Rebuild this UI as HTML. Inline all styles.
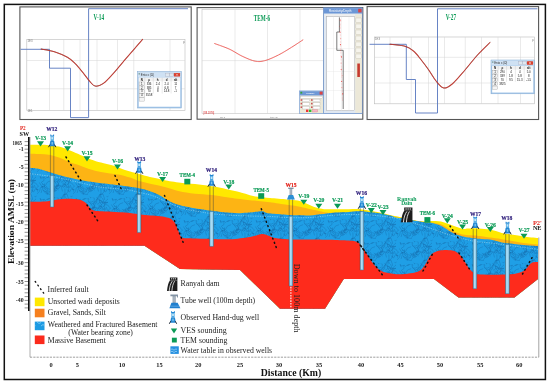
<!DOCTYPE html>
<html><head><meta charset="utf-8"><title>Geoelectrical cross-section P2-P2'</title>
<style>
html,body{margin:0;padding:0;background:#fff;}
body{width:550px;height:383px;overflow:hidden;}
svg{display:block;}
text{font-family:"Liberation Serif","Times New Roman",serif;}
.ss{font-family:"Liberation Sans",Arial,sans-serif;}
</style></head><body>
<svg width="550" height="383" viewBox="0 0 550 383">
<rect x="0" y="0" width="550" height="383" fill="#fff"/>

<defs>
<pattern id="tex" x="0" y="0" width="36" height="22" patternUnits="userSpaceOnUse">
<polyline points="16.29,12.31 18.93,11.04 21.83,10.65 22.70,7.86" fill="none" stroke="#0f5c9c" stroke-width="0.5" opacity="0.6"/>
<polyline points="18.43,13.86 17.50,11.88 15.44,12.61 13.87,11.08" fill="none" stroke="#0f5c9c" stroke-width="0.5" opacity="0.6"/>
<polyline points="24.96,0.92 28.52,2.60 31.09,5.58 34.74,4.14" fill="none" stroke="#0f5c9c" stroke-width="0.5" opacity="0.6"/>
<polyline points="0.54,11.62 2.56,10.37 1.07,8.51 -0.64,6.86" fill="none" stroke="#0f5c9c" stroke-width="0.5" opacity="0.6"/>
<polyline points="15.86,18.53 12.60,18.14 10.10,16.02 7.31,14.30" fill="none" stroke="#0f5c9c" stroke-width="0.5" opacity="0.6"/>
<polyline points="10.01,21.95 12.78,24.38 16.45,24.58 18.69,21.66" fill="none" stroke="#0f5c9c" stroke-width="0.5" opacity="0.6"/>
<polyline points="10.41,1.54 13.14,0.93 15.40,-0.72 16.87,1.67" fill="none" stroke="#0f5c9c" stroke-width="0.5" opacity="0.6"/>
<polyline points="30.50,0.01 31.85,3.59 28.11,4.36 24.90,6.42" fill="none" stroke="#0f5c9c" stroke-width="0.5" opacity="0.6"/>
<polyline points="2.63,13.85 0.18,13.19 -2.22,14.03 -2.82,11.56" fill="none" stroke="#0f5c9c" stroke-width="0.5" opacity="0.6"/>
<polyline points="27.29,2.60 29.49,2.52 30.62,4.41 32.80,4.13" fill="none" stroke="#0f5c9c" stroke-width="0.5" opacity="0.6"/>
<polyline points="20.13,9.84 23.57,9.39 26.78,10.70 28.67,7.80" fill="none" stroke="#0f5c9c" stroke-width="0.5" opacity="0.6"/>
<polyline points="15.15,4.68 11.45,6.05 9.52,9.49 5.79,8.22" fill="none" stroke="#0f5c9c" stroke-width="0.5" opacity="0.6"/>
<polyline points="7.59,8.67 5.27,6.35 7.99,4.51 7.82,1.23" fill="none" stroke="#0f5c9c" stroke-width="0.5" opacity="0.6"/>
<polyline points="9.30,17.00 11.53,18.31 13.05,16.21 15.12,14.65" fill="none" stroke="#0f5c9c" stroke-width="0.5" opacity="0.6"/>
<polyline points="8.75,13.23 6.82,11.05 4.77,8.99 3.34,6.46" fill="none" stroke="#0f5c9c" stroke-width="0.5" opacity="0.6"/>
<polyline points="31.19,4.02 29.23,7.29 30.57,10.86 34.37,11.22" fill="none" stroke="#0f5c9c" stroke-width="0.5" opacity="0.6"/>
<polyline points="26.62,20.69 23.26,22.66 19.40,23.28 15.88,24.94" fill="none" stroke="#0f5c9c" stroke-width="0.5" opacity="0.6"/>
<polyline points="3.74,0.85 5.91,2.04 8.22,1.14 9.96,2.90" fill="none" stroke="#0f5c9c" stroke-width="0.5" opacity="0.6"/>
<polyline points="21.47,6.46 24.57,4.96 25.06,1.55 26.26,-1.67" fill="none" stroke="#0f5c9c" stroke-width="0.5" opacity="0.6"/>
<polyline points="30.69,13.51 33.63,15.97 35.56,12.65 34.40,9.00" fill="none" stroke="#0f5c9c" stroke-width="0.5" opacity="0.6"/>
<polyline points="16.05,1.33 16.60,4.01 19.33,4.12 21.79,2.92" fill="none" stroke="#0f5c9c" stroke-width="0.5" opacity="0.6"/>
<polyline points="32.07,21.57 31.14,18.32 27.75,18.34 28.12,21.70" fill="none" stroke="#0f5c9c" stroke-width="0.5" opacity="0.6"/>
<polyline points="0.64,20.02 -2.87,21.77 -6.80,21.66 -10.72,21.79" fill="none" stroke="#0f5c9c" stroke-width="0.5" opacity="0.6"/>
<polyline points="26.30,7.02 28.42,7.36 29.56,9.19 27.89,10.55" fill="none" stroke="#0f5c9c" stroke-width="0.5" opacity="0.6"/>
<polyline points="26.54,15.48 25.54,11.78 27.05,8.26 30.74,9.31" fill="none" stroke="#0f5c9c" stroke-width="0.5" opacity="0.6"/>
<polyline points="31.36,9.18 33.20,5.94 36.27,3.82 38.19,0.63" fill="none" stroke="#0f5c9c" stroke-width="0.5" opacity="0.6"/>
<polyline points="20.98,13.40 18.84,15.88 15.97,14.30 15.18,11.11" fill="none" stroke="#0f5c9c" stroke-width="0.5" opacity="0.6"/>
<polyline points="13.98,16.17 14.43,13.32 11.62,12.67 10.39,10.07" fill="none" stroke="#0f5c9c" stroke-width="0.5" opacity="0.6"/>
<polyline points="1.07,13.23 -0.97,11.85 -3.02,10.49 -4.35,8.43" fill="none" stroke="#0f5c9c" stroke-width="0.5" opacity="0.6"/>
<polyline points="33.14,5.63 35.11,7.33 37.54,6.42 37.60,3.81" fill="none" stroke="#0f5c9c" stroke-width="0.5" opacity="0.6"/>
<polyline points="32.61,14.52 30.52,17.68 27.02,19.12 26.67,22.89" fill="none" stroke="#0f5c9c" stroke-width="0.5" opacity="0.6"/>
<polyline points="15.51,17.73 17.68,14.66 20.66,12.37 21.61,8.73" fill="none" stroke="#0f5c9c" stroke-width="0.5" opacity="0.6"/>
<polyline points="4.90,10.92 8.47,9.96 9.26,13.57 12.40,15.52" fill="none" stroke="#0f5c9c" stroke-width="0.5" opacity="0.6"/>
<polyline points="6.09,9.91 6.46,12.31 5.74,14.63 5.07,16.97" fill="none" stroke="#0f5c9c" stroke-width="0.5" opacity="0.6"/>
<polyline points="11.35,18.46 11.14,15.56 8.29,16.11 7.11,13.46" fill="none" stroke="#0f5c9c" stroke-width="0.5" opacity="0.6"/>
<polyline points="1.49,15.59 1.29,12.98 -1.25,13.60 -1.31,16.22" fill="none" stroke="#0f5c9c" stroke-width="0.5" opacity="0.6"/>
<polyline points="16.37,0.54 14.61,-1.19 12.98,0.67 10.69,1.61" fill="none" stroke="#0f5c9c" stroke-width="0.5" opacity="0.6"/>
<polyline points="16.07,13.86 19.22,12.07 22.79,12.60 24.94,9.69" fill="none" stroke="#0f5c9c" stroke-width="0.5" opacity="0.6"/>
<polyline points="17.11,3.93 19.07,6.12 21.87,5.20 23.11,2.53" fill="none" stroke="#0f5c9c" stroke-width="0.5" opacity="0.6"/>
<polyline points="12.45,15.34 10.84,12.54 8.31,10.54 8.78,7.35" fill="none" stroke="#0f5c9c" stroke-width="0.5" opacity="0.6"/>
<polyline points="32.62,1.92 31.99,-1.47 30.80,-4.70 31.14,-8.13" fill="none" stroke="#0f5c9c" stroke-width="0.5" opacity="0.6"/>
<polyline points="32.76,8.29 32.50,4.54 36.25,4.38 39.95,3.74" fill="none" stroke="#0f5c9c" stroke-width="0.5" opacity="0.6"/>
<polyline points="23.45,4.51 24.64,1.07 27.91,-0.52 28.21,-4.15" fill="none" stroke="#0f5c9c" stroke-width="0.5" opacity="0.6"/>
<polyline points="32.40,21.57 34.30,23.99 37.27,24.77 36.77,27.80" fill="none" stroke="#0f5c9c" stroke-width="0.5" opacity="0.6"/>
<polyline points="30.81,7.67 33.01,9.53 32.73,12.39 32.59,15.27" fill="none" stroke="#0f5c9c" stroke-width="0.5" opacity="0.6"/>
<polyline points="1.02,17.80 3.59,15.28 4.32,11.76 7.72,10.58" fill="none" stroke="#0f5c9c" stroke-width="0.5" opacity="0.6"/>
<polyline points="5.06,3.27 4.23,-0.07 5.69,-3.20 8.76,-1.63" fill="none" stroke="#0f5c9c" stroke-width="0.5" opacity="0.6"/>
<polyline points="17.73,20.88 19.70,22.33 22.12,22.04 23.98,23.63" fill="none" stroke="#0f5c9c" stroke-width="0.5" opacity="0.6"/>
<polyline points="23.00,11.50 22.72,8.39 21.18,5.68 23.25,3.35" fill="none" stroke="#0f5c9c" stroke-width="0.5" opacity="0.6"/>
<polyline points="32.42,4.58 35.02,1.62 38.29,-0.56 37.92,-4.48" fill="none" stroke="#0f5c9c" stroke-width="0.5" opacity="0.6"/>
<polyline points="19.29,11.07 20.74,9.61 22.27,8.23 23.21,6.41" fill="none" stroke="#0f5c9c" stroke-width="0.5" opacity="0.6"/>
<polyline points="28.84,12.38 29.00,15.76 28.69,19.13 29.43,22.43" fill="none" stroke="#0f5c9c" stroke-width="0.5" opacity="0.6"/>
<polyline points="34.45,20.32 37.22,21.32 40.14,21.64 41.08,24.44" fill="none" stroke="#0f5c9c" stroke-width="0.5" opacity="0.6"/>
<polyline points="32.42,10.48 30.63,12.06 28.99,10.34 26.93,11.54" fill="none" stroke="#0f5c9c" stroke-width="0.5" opacity="0.6"/>
<polyline points="28.05,0.50 27.28,2.83 28.05,5.16 29.87,6.80" fill="none" stroke="#0f5c9c" stroke-width="0.5" opacity="0.6"/>
<polyline points="22.31,2.31 22.13,0.07 20.26,-1.18 18.29,-0.11" fill="none" stroke="#0f5c9c" stroke-width="0.5" opacity="0.6"/>
<polyline points="19.09,9.61 16.89,11.38 17.80,14.05 20.58,14.55" fill="none" stroke="#0f5c9c" stroke-width="0.5" opacity="0.6"/>
<polyline points="22.73,14.05 19.65,11.99 20.75,8.46 18.48,5.53" fill="none" stroke="#0f5c9c" stroke-width="0.5" opacity="0.6"/>
</pattern>
<pattern id="tex2" x="0" y="0" width="9" height="8" patternUnits="userSpaceOnUse"><path d="M1,2 l2,1.5 l2,-1 M5,6 l2,-1.5 l1.5,1.2" stroke="#bfe6ff" stroke-width="0.5" fill="none"/></pattern>
</defs>
<rect x="19.9" y="6.9" width="171.3" height="112.6" fill="#fff" stroke="#555" stroke-width="1.1"/>
<rect x="26.8" y="39.4" width="158.2" height="71.1" fill="#fff" stroke="#bbb" stroke-width="0.6"/>
<line x1="49.5" y1="39.4" x2="49.5" y2="110.5" stroke="#d4d4d4" stroke-width="0.5"/>
<line x1="63.75" y1="39.4" x2="63.75" y2="110.5" stroke="#d4d4d4" stroke-width="0.5"/>
<line x1="80" y1="39.4" x2="80" y2="110.5" stroke="#d4d4d4" stroke-width="0.5"/>
<line x1="97" y1="39.4" x2="97" y2="110.5" stroke="#d4d4d4" stroke-width="0.5"/>
<line x1="117.5" y1="39.4" x2="117.5" y2="110.5" stroke="#d4d4d4" stroke-width="0.5"/>
<line x1="133.75" y1="39.4" x2="133.75" y2="110.5" stroke="#d4d4d4" stroke-width="0.5"/>
<line x1="170" y1="39.4" x2="170" y2="110.5" stroke="#d4d4d4" stroke-width="0.5"/>
<line x1="26.8" y1="60.5" x2="185" y2="60.5" stroke="#d4d4d4" stroke-width="0.5"/>
<line x1="26.8" y1="88.75" x2="185" y2="88.75" stroke="#d4d4d4" stroke-width="0.5"/>
<text x="27.5" y="42" font-size="2.8" fill="#777" style="font-family:Liberation Sans,sans-serif">1E3</text>
<text x="27.5" y="112" font-size="2.8" fill="#777" style="font-family:Liberation Sans,sans-serif">1E1</text>
<text x="183" y="42.5" font-size="3" fill="#777" style="font-family:Liberation Sans,sans-serif">ρ</text>
<polyline points="20.5,49.3 49.5,49.3 49.5,68.2 70.5,68.2 70.5,117.6 88.6,117.6 88.6,8.7 188,8.7" fill="none" stroke="#5f7dc2" stroke-width="0.95" stroke-linejoin="round" />
<path d="M41.2,49.1 C43.38,49.53 49.93,50.33 54.30,51.70 C58.67,53.07 63.87,55.28 67.40,57.30 C70.93,59.32 72.78,61.08 75.50,63.80 C78.22,66.52 81.35,70.70 83.70,73.60 C86.05,76.50 87.68,79.12 89.60,81.20 C91.52,83.28 92.90,85.73 95.20,86.10 C97.50,86.47 100.40,85.48 103.40,83.40 C106.40,81.32 109.38,77.80 113.20,73.60 C117.02,69.40 121.40,63.92 126.30,58.20 C131.20,52.48 139.88,42.45 142.60,39.30" fill="none" stroke="#3a2a2a" stroke-width="0.55" stroke-linecap="round" />
<path d="M41.2,49.1 C43.38,49.53 49.93,50.33 54.30,51.70 C58.67,53.07 63.87,55.28 67.40,57.30 C70.93,59.32 72.78,61.08 75.50,63.80 C78.22,66.52 81.35,70.70 83.70,73.60 C86.05,76.50 87.68,79.12 89.60,81.20 C91.52,83.28 92.90,85.73 95.20,86.10 C97.50,86.47 100.40,85.48 103.40,83.40 C106.40,81.32 109.38,77.80 113.20,73.60 C117.02,69.40 121.40,63.92 126.30,58.20 C131.20,52.48 139.88,42.45 142.60,39.30" fill="none" stroke="#c8342a" stroke-width="1.05" stroke-linecap="round" opacity="0.85"/>
<text x="98.8" y="19.6" font-size="7.2" font-weight="bold" text-anchor="middle" fill="#0a9a55" textLength="10.5" lengthAdjust="spacingAndGlyphs">V-14</text>
<rect x="137.6" y="71.7" width="43.70" height="36.30" fill="#a7c9ea" stroke="#7ea6d0" stroke-width="0.5"/>
<rect x="138.0" y="72.10000000000001" width="42.90" height="5.2" fill="#cfe1f3"/>
<rect x="138.5" y="73.0" width="1.6" height="1.6" fill="#8aa" />
<text x="140.79999999999998" y="76.0" font-size="2.9" fill="#333" class="ss">Ento x (Ω)</text>
<rect x="165.80" y="73.10000000000001" width="3.6" height="3.2" fill="#dfe7ef" stroke="#99a" stroke-width="0.25"/>
<rect x="169.60" y="73.10000000000001" width="3.6" height="3.2" fill="#dfe7ef" stroke="#99a" stroke-width="0.25"/>
<rect x="173.90" y="72.9" width="6.2" height="3.6" fill="#d8412f" rx="0.6"/>
<path d="M176.10,73.7 l1.8,2 m0,-2 l-1.8,2" stroke="#fff" stroke-width="0.45"/>
<rect x="138.80" y="77.70" width="41.40" height="29.00" fill="#fff"/>
<rect x="138.80" y="77.70" width="41.40" height="3.55" fill="#f1f1f1"/>
<line x1="144.80" y1="77.70" x2="144.80" y2="93.50" stroke="#b8b8b8" stroke-width="0.3"/>
<line x1="153.29" y1="77.70" x2="153.29" y2="93.50" stroke="#b8b8b8" stroke-width="0.3"/>
<line x1="162.19" y1="77.70" x2="162.19" y2="93.50" stroke="#b8b8b8" stroke-width="0.3"/>
<line x1="171.09" y1="77.70" x2="171.09" y2="93.50" stroke="#b8b8b8" stroke-width="0.3"/>
<rect x="139.10" y="81.95" width="5.40" height="3.35" fill="#f4f4f4" stroke="#8c8c8c" stroke-width="0.3"/>
<rect x="139.10" y="85.90" width="5.40" height="3.35" fill="#f4f4f4" stroke="#8c8c8c" stroke-width="0.3"/>
<rect x="139.10" y="89.85" width="5.40" height="3.35" fill="#f4f4f4" stroke="#8c8c8c" stroke-width="0.3"/>
<rect x="139.10" y="93.80" width="5.40" height="3.35" fill="#f4f4f4" stroke="#8c8c8c" stroke-width="0.3"/>
<rect x="139.10" y="97.75" width="5.40" height="3.35" fill="#f4f4f4" stroke="#8c8c8c" stroke-width="0.3"/>
<text x="141.80" y="80.60" font-size="2.9" font-weight="bold" text-anchor="middle" fill="#111" class="ss">N</text>
<text x="149.05" y="80.60" font-size="2.9" font-weight="bold" text-anchor="middle" fill="#111" class="ss">ρ</text>
<text x="157.74" y="80.60" font-size="2.9" font-weight="bold" text-anchor="middle" fill="#111" class="ss">h</text>
<text x="166.64" y="80.60" font-size="2.9" font-weight="bold" text-anchor="middle" fill="#111" class="ss">d</text>
<text x="175.65" y="80.60" font-size="2.9" font-weight="bold" text-anchor="middle" fill="#111" class="ss">alt</text>
<text x="141.80" y="84.55" font-size="2.9" text-anchor="middle" fill="#111" class="ss">1</text>
<text x="149.05" y="84.55" font-size="2.9" text-anchor="middle" fill="#111" class="ss">336</text>
<text x="157.74" y="84.55" font-size="2.9" text-anchor="middle" fill="#111" class="ss">2.4</text>
<text x="166.64" y="84.55" font-size="2.9" text-anchor="middle" fill="#111" class="ss">2.4</text>
<text x="175.65" y="84.55" font-size="2.9" text-anchor="middle" fill="#111" class="ss">11</text>
<text x="141.80" y="88.50" font-size="2.9" text-anchor="middle" fill="#111" class="ss">2</text>
<text x="149.05" y="88.50" font-size="2.9" text-anchor="middle" fill="#111" class="ss">385</text>
<text x="157.74" y="88.50" font-size="2.9" text-anchor="middle" fill="#111" class="ss">4</text>
<text x="166.64" y="88.50" font-size="2.9" text-anchor="middle" fill="#111" class="ss">6.8</text>
<text x="175.65" y="88.50" font-size="2.9" text-anchor="middle" fill="#111" class="ss">7</text>
<text x="141.80" y="92.45" font-size="2.9" text-anchor="middle" fill="#111" class="ss">3</text>
<text x="149.05" y="92.45" font-size="2.9" text-anchor="middle" fill="#111" class="ss">70</text>
<text x="157.74" y="92.45" font-size="2.9" text-anchor="middle" fill="#111" class="ss">8</text>
<text x="166.64" y="92.45" font-size="2.9" text-anchor="middle" fill="#111" class="ss">14.8</text>
<text x="175.65" y="92.45" font-size="2.9" text-anchor="middle" fill="#111" class="ss">-1</text>
<text x="141.80" y="96.40" font-size="2.9" text-anchor="middle" fill="#111" class="ss">4</text>
<text x="149.05" y="96.40" font-size="2.9" text-anchor="middle" fill="#111" class="ss">3558</text>
<text x="157.74" y="96.40" font-size="2.9" text-anchor="middle" fill="#111" class="ss"></text>
<text x="166.64" y="96.40" font-size="2.9" text-anchor="middle" fill="#111" class="ss"></text>
<text x="175.65" y="96.40" font-size="2.9" text-anchor="middle" fill="#111" class="ss"></text>
<rect x="197.1" y="7.6" width="165.7" height="111.6" fill="#fff" stroke="#555" stroke-width="1.1"/>
<rect x="202" y="9.6" width="121.5" height="104.0" fill="#fff" stroke="#c4c4c4" stroke-width="0.6"/>
<line x1="235" y1="9.6" x2="235" y2="113.6" stroke="#d4d4d4" stroke-width="0.5"/>
<line x1="267.5" y1="9.6" x2="267.5" y2="113.6" stroke="#d4d4d4" stroke-width="0.5"/>
<line x1="300" y1="9.6" x2="300" y2="113.6" stroke="#d4d4d4" stroke-width="0.5"/>
<line x1="202" y1="60.6" x2="323.5" y2="60.6" stroke="#d4d4d4" stroke-width="0.5"/>
<path d="M214.5,43.5 C216.97,44.43 224.65,46.97 229.30,49.10 C233.95,51.23 238.05,54.28 242.40,56.30 C246.75,58.32 251.58,60.50 255.40,61.20 C259.22,61.90 261.47,61.53 265.30,60.50 C269.13,59.47 274.05,57.18 278.40,55.00 C282.75,52.82 287.32,49.92 291.40,47.40 C295.48,44.88 300.98,41.15 302.90,39.90" fill="none" stroke="#ea4f4a" stroke-width="0.9" stroke-linecap="round" stroke-dasharray="0.7,0.55" opacity="0.9"/>
<text x="262" y="20.6" font-size="7.2" font-weight="bold" text-anchor="middle" fill="#0a9a55" textLength="16.4" lengthAdjust="spacingAndGlyphs">TEM-6</text>
<text x="203.5" y="113.6" font-size="2.6" fill="#d22" style="font-family:Liberation Sans,sans-serif">[88.1876]</text>
<text x="220" y="117.6" font-size="2.4" fill="#888" style="font-family:Liberation Sans,sans-serif">1E-5</text>
<text x="270" y="117.6" font-size="2.4" fill="#888" style="font-family:Liberation Sans,sans-serif">time (s)</text>
<rect x="323.6" y="7.8" width="38.6" height="105.6" fill="#dfe7f1" stroke="#5d86c4" stroke-width="0.7"/>
<rect x="323.9" y="8.1" width="38" height="5.4" fill="#6c97d6"/>
<text x="329" y="12.3" font-size="3" fill="#fff" style="font-family:Liberation Sans,sans-serif">Resistivity/Depth</text>
<rect x="358.2" y="8.8" width="3.4" height="3.6" fill="#d44"/>
<rect x="324.6" y="14.2" width="30.5" height="2.3" fill="#eee"/>
<rect x="326.8" y="16.6" width="28" height="94" fill="#fff" stroke="#999" stroke-width="0.4"/>
<line x1="333.5" y1="16.6" x2="333.5" y2="110.6" stroke="#e2e2e2" stroke-width="0.4"/>
<line x1="341.5" y1="16.6" x2="341.5" y2="110.6" stroke="#e2e2e2" stroke-width="0.4"/>
<line x1="349" y1="16.6" x2="349" y2="110.6" stroke="#e2e2e2" stroke-width="0.4"/>
<line x1="326.8" y1="48.5" x2="354.8" y2="48.5" stroke="#e6e6e6" stroke-width="0.4"/>
<line x1="326.8" y1="71.5" x2="354.8" y2="71.5" stroke="#e6e6e6" stroke-width="0.4"/>
<line x1="326.8" y1="90.5" x2="354.8" y2="90.5" stroke="#e6e6e6" stroke-width="0.4"/>
<rect x="355.2" y="14.2" width="6.7" height="98.6" fill="#ece8d8"/>
<rect x="355.9" y="18" width="5.4" height="4.6" fill="#f6f4ec" stroke="#b7b3a3" stroke-width="0.3"/>
<rect x="355.9" y="24" width="5.4" height="4.6" fill="#f6f4ec" stroke="#b7b3a3" stroke-width="0.3"/>
<rect x="355.9" y="30" width="5.4" height="4.6" fill="#f6f4ec" stroke="#b7b3a3" stroke-width="0.3"/>
<rect x="355.9" y="36" width="5.4" height="4.6" fill="#f6f4ec" stroke="#b7b3a3" stroke-width="0.3"/>
<rect x="355.9" y="42" width="5.4" height="4.6" fill="#f6f4ec" stroke="#b7b3a3" stroke-width="0.3"/>
<rect x="355.9" y="48" width="5.4" height="4.6" fill="#f6f4ec" stroke="#b7b3a3" stroke-width="0.3"/>
<rect x="355.9" y="54" width="5.4" height="4.6" fill="#f6f4ec" stroke="#b7b3a3" stroke-width="0.3"/>
<rect x="357.3" y="63.5" width="2.6" height="13.5" fill="#c63a2e"/>
<polyline points="339.4,17.4 339.4,32 336.8,32 336.8,50.3 343.2,50.3 343.2,109" fill="none" stroke="#222" stroke-width="0.6" stroke-linejoin="round" />
<circle cx="340.20" cy="20.00" r="0.55" fill="#e23a35"/>
<circle cx="339.81" cy="26.15" r="0.35" fill="#e23a35"/>
<circle cx="340.02" cy="32.31" r="0.55" fill="#e23a35"/>
<circle cx="340.82" cy="38.46" r="0.35" fill="#e23a35"/>
<circle cx="340.43" cy="44.62" r="0.55" fill="#e23a35"/>
<circle cx="340.64" cy="50.77" r="0.35" fill="#e23a35"/>
<circle cx="341.45" cy="56.92" r="0.55" fill="#e23a35"/>
<circle cx="341.05" cy="63.08" r="0.35" fill="#e23a35"/>
<circle cx="341.26" cy="69.23" r="0.55" fill="#e23a35"/>
<circle cx="342.07" cy="75.38" r="0.35" fill="#e23a35"/>
<circle cx="341.68" cy="81.54" r="0.55" fill="#e23a35"/>
<circle cx="341.88" cy="87.69" r="0.35" fill="#e23a35"/>
<circle cx="342.69" cy="93.85" r="0.55" fill="#e23a35"/>
<circle cx="342.30" cy="100.00" r="0.35" fill="#e23a35"/>
<polyline points="340.8,20 340.2,30 340.8,50 341.8,80 342.4,100" fill="none" stroke="#f08080" stroke-width="0.5" stroke-linejoin="round" stroke-dasharray="0.6,0.8"/>
<rect x="299.5" y="90.9" width="24" height="22.5" fill="#ece9d8" stroke="#6c97d6" stroke-width="0.6"/>
<rect x="299.8" y="91.2" width="23.4" height="4.3" fill="#6c97d6"/>
<rect x="300.4" y="91.8" width="1.8" height="1.8" fill="#3a3"/>
<text x="306" y="94.4" font-size="2.4" fill="#fff" class="ss">MODEL</text>
<rect x="319.6" y="91.6" width="3" height="3" fill="#d44"/>
<rect x="300.8" y="96.2" width="21.6" height="2.2" fill="#fff" stroke="#999" stroke-width="0.25"/>
<rect x="300.6" y="99.2" width="1.6" height="1.6" fill="#c55"/>
<rect x="302.6" y="99.2" width="7" height="2.6" fill="#fff" stroke="#999" stroke-width="0.25"/>
<rect x="311" y="99.2" width="1.6" height="1.6" fill="#c55"/>
<rect x="313" y="99.2" width="7" height="2.6" fill="#fff" stroke="#999" stroke-width="0.25"/>
<rect x="300.6" y="102.8" width="1.6" height="1.6" fill="#c55"/>
<rect x="302.6" y="102.8" width="7" height="2.6" fill="#fff" stroke="#999" stroke-width="0.25"/>
<rect x="311" y="102.8" width="1.6" height="1.6" fill="#c55"/>
<rect x="313" y="102.8" width="7" height="2.6" fill="#fff" stroke="#999" stroke-width="0.25"/>
<rect x="300.6" y="106.4" width="1.6" height="1.6" fill="#c55"/>
<rect x="302.6" y="106.4" width="7" height="2.6" fill="#fff" stroke="#999" stroke-width="0.25"/>
<rect x="311" y="106.4" width="1.6" height="1.6" fill="#c55"/>
<rect x="313" y="106.4" width="7" height="2.6" fill="#fff" stroke="#999" stroke-width="0.25"/>
<rect x="306" y="109.6" width="2.4" height="2.4" fill="#e33"/><rect x="309" y="109.6" width="2.4" height="2.4" fill="#3b3"/>
<rect x="312.6" y="109.6" width="5" height="2.4" fill="#f6b6c6" stroke="#c66" stroke-width="0.25"/>
<rect x="367.1" y="6.6" width="171.5" height="112.9" fill="#fff" stroke="#555" stroke-width="1.1"/>
<rect x="374.5" y="37" width="159.79999999999995" height="66.8" fill="#fff" stroke="#bbb" stroke-width="0.6"/>
<line x1="390" y1="37" x2="390" y2="103.8" stroke="#d4d4d4" stroke-width="0.5"/>
<line x1="411.25" y1="37" x2="411.25" y2="103.8" stroke="#d4d4d4" stroke-width="0.5"/>
<line x1="428.5" y1="37" x2="428.5" y2="103.8" stroke="#d4d4d4" stroke-width="0.5"/>
<line x1="444.5" y1="37" x2="444.5" y2="103.8" stroke="#d4d4d4" stroke-width="0.5"/>
<line x1="465.25" y1="37" x2="465.25" y2="103.8" stroke="#d4d4d4" stroke-width="0.5"/>
<line x1="481.5" y1="37" x2="481.5" y2="103.8" stroke="#d4d4d4" stroke-width="0.5"/>
<line x1="498" y1="37" x2="498" y2="103.8" stroke="#d4d4d4" stroke-width="0.5"/>
<line x1="520.5" y1="37" x2="520.5" y2="103.8" stroke="#d4d4d4" stroke-width="0.5"/>
<line x1="374.5" y1="57.3" x2="534.3" y2="57.3" stroke="#d4d4d4" stroke-width="0.5"/>
<line x1="374.5" y1="83" x2="534.3" y2="83" stroke="#d4d4d4" stroke-width="0.5"/>
<text x="375" y="39.5" font-size="2.8" fill="#777" style="font-family:Liberation Sans,sans-serif">1E3</text>
<text x="532" y="40.5" font-size="3" fill="#777" style="font-family:Liberation Sans,sans-serif">ρ</text>
<polyline points="369.5,44.3 406.3,44.3 406.3,79.5 415.5,79.5 415.5,113 437.5,113 437.5,8.8 537.5,8.8" fill="none" stroke="#5f7dc2" stroke-width="0.95" stroke-linejoin="round" />
<path d="M390,44.25 C392.50,44.59 401.04,45.13 405.00,46.30 C408.96,47.47 411.04,48.97 413.75,51.25 C416.46,53.53 418.75,56.88 421.25,60.00 C423.75,63.12 426.25,66.46 428.75,70.00 C431.25,73.54 433.75,78.25 436.25,81.25 C438.75,84.25 441.04,87.58 443.75,88.00 C446.46,88.42 448.96,86.75 452.50,83.75 C456.04,80.75 460.83,74.79 465.00,70.00 C469.17,65.21 473.33,59.58 477.50,55.00 C481.67,50.42 487.92,44.58 490.00,42.50" fill="none" stroke="#3a2a2a" stroke-width="0.55" stroke-linecap="round" />
<path d="M390,44.25 C392.50,44.59 401.04,45.13 405.00,46.30 C408.96,47.47 411.04,48.97 413.75,51.25 C416.46,53.53 418.75,56.88 421.25,60.00 C423.75,63.12 426.25,66.46 428.75,70.00 C431.25,73.54 433.75,78.25 436.25,81.25 C438.75,84.25 441.04,87.58 443.75,88.00 C446.46,88.42 448.96,86.75 452.50,83.75 C456.04,80.75 460.83,74.79 465.00,70.00 C469.17,65.21 473.33,59.58 477.50,55.00 C481.67,50.42 487.92,44.58 490.00,42.50" fill="none" stroke="#c8342a" stroke-width="1.05" stroke-linecap="round" opacity="0.85"/>
<text x="450.9" y="20.2" font-size="7.2" font-weight="bold" text-anchor="middle" fill="#0a9a55" textLength="10.4" lengthAdjust="spacingAndGlyphs">V-27</text>
<rect x="491" y="60" width="43.30" height="33.80" fill="#a7c9ea" stroke="#7ea6d0" stroke-width="0.5"/>
<rect x="491.4" y="60.4" width="42.50" height="5.2" fill="#cfe1f3"/>
<rect x="491.9" y="61.3" width="1.6" height="1.6" fill="#8aa" />
<text x="494.2" y="64.3" font-size="2.9" fill="#333" class="ss">Ento x (Ω)</text>
<rect x="518.80" y="61.4" width="3.6" height="3.2" fill="#dfe7ef" stroke="#99a" stroke-width="0.25"/>
<rect x="522.60" y="61.4" width="3.6" height="3.2" fill="#dfe7ef" stroke="#99a" stroke-width="0.25"/>
<rect x="526.90" y="61.2" width="6.2" height="3.6" fill="#d8412f" rx="0.6"/>
<path d="M529.10,62 l1.8,2 m0,-2 l-1.8,2" stroke="#fff" stroke-width="0.45"/>
<rect x="492.20" y="66.00" width="41.00" height="26.50" fill="#fff"/>
<rect x="492.20" y="66.00" width="41.00" height="3.55" fill="#f1f1f1"/>
<line x1="498.14" y1="66.00" x2="498.14" y2="81.80" stroke="#b8b8b8" stroke-width="0.3"/>
<line x1="506.55" y1="66.00" x2="506.55" y2="81.80" stroke="#b8b8b8" stroke-width="0.3"/>
<line x1="515.37" y1="66.00" x2="515.37" y2="81.80" stroke="#b8b8b8" stroke-width="0.3"/>
<line x1="524.18" y1="66.00" x2="524.18" y2="81.80" stroke="#b8b8b8" stroke-width="0.3"/>
<rect x="492.50" y="70.25" width="5.34" height="3.35" fill="#f4f4f4" stroke="#8c8c8c" stroke-width="0.3"/>
<rect x="492.50" y="74.20" width="5.34" height="3.35" fill="#f4f4f4" stroke="#8c8c8c" stroke-width="0.3"/>
<rect x="492.50" y="78.15" width="5.34" height="3.35" fill="#f4f4f4" stroke="#8c8c8c" stroke-width="0.3"/>
<rect x="492.50" y="82.10" width="5.34" height="3.35" fill="#f4f4f4" stroke="#8c8c8c" stroke-width="0.3"/>
<rect x="492.50" y="86.05" width="5.34" height="3.35" fill="#f4f4f4" stroke="#8c8c8c" stroke-width="0.3"/>
<text x="495.17" y="68.90" font-size="2.9" font-weight="bold" text-anchor="middle" fill="#111" class="ss">N</text>
<text x="502.35" y="68.90" font-size="2.9" font-weight="bold" text-anchor="middle" fill="#111" class="ss">ρ</text>
<text x="510.96" y="68.90" font-size="2.9" font-weight="bold" text-anchor="middle" fill="#111" class="ss">h</text>
<text x="519.77" y="68.90" font-size="2.9" font-weight="bold" text-anchor="middle" fill="#111" class="ss">d</text>
<text x="528.69" y="68.90" font-size="2.9" font-weight="bold" text-anchor="middle" fill="#111" class="ss">alt</text>
<text x="495.17" y="72.85" font-size="2.9" text-anchor="middle" fill="#111" class="ss">1</text>
<text x="502.35" y="72.85" font-size="2.9" text-anchor="middle" fill="#111" class="ss">290</text>
<text x="510.96" y="72.85" font-size="2.9" text-anchor="middle" fill="#111" class="ss">4</text>
<text x="519.77" y="72.85" font-size="2.9" text-anchor="middle" fill="#111" class="ss">4</text>
<text x="528.69" y="72.85" font-size="2.9" text-anchor="middle" fill="#111" class="ss">5.0</text>
<text x="495.17" y="76.80" font-size="2.9" text-anchor="middle" fill="#111" class="ss">2</text>
<text x="502.35" y="76.80" font-size="2.9" text-anchor="middle" fill="#111" class="ss">339</text>
<text x="510.96" y="76.80" font-size="2.9" text-anchor="middle" fill="#111" class="ss">1.8</text>
<text x="519.77" y="76.80" font-size="2.9" text-anchor="middle" fill="#111" class="ss">5.8</text>
<text x="528.69" y="76.80" font-size="2.9" text-anchor="middle" fill="#111" class="ss">8</text>
<text x="495.17" y="80.75" font-size="2.9" text-anchor="middle" fill="#111" class="ss">3</text>
<text x="502.35" y="80.75" font-size="2.9" text-anchor="middle" fill="#111" class="ss">70</text>
<text x="510.96" y="80.75" font-size="2.9" text-anchor="middle" fill="#111" class="ss">9.5</text>
<text x="519.77" y="80.75" font-size="2.9" text-anchor="middle" fill="#111" class="ss">15.3</text>
<text x="528.69" y="80.75" font-size="2.9" text-anchor="middle" fill="#111" class="ss">-1.5</text>
<text x="495.17" y="84.70" font-size="2.9" text-anchor="middle" fill="#111" class="ss">4</text>
<text x="502.35" y="84.70" font-size="2.9" text-anchor="middle" fill="#111" class="ss">3925</text>
<text x="510.96" y="84.70" font-size="2.9" text-anchor="middle" fill="#111" class="ss"></text>
<text x="519.77" y="84.70" font-size="2.9" text-anchor="middle" fill="#111" class="ss"></text>
<text x="528.69" y="84.70" font-size="2.9" text-anchor="middle" fill="#111" class="ss"></text>
<path d="M30.00,144.80 C31.50,144.80 37.15,144.74 40.00,144.80 C42.85,144.86 46.15,144.93 49.00,145.20 C51.85,145.47 55.85,145.79 59.00,146.60 C62.15,147.41 66.79,149.34 70.00,150.60 C73.21,151.86 77.27,153.66 80.40,155.00 C83.54,156.34 87.81,158.36 90.90,159.50 C93.99,160.64 97.69,161.69 101.00,162.60 C104.31,163.51 109.40,164.49 113.00,165.60 C116.60,166.71 121.70,168.92 125.00,170.00 C128.30,171.08 132.00,171.93 135.00,172.80 C138.00,173.67 142.00,175.02 145.00,175.80 C148.00,176.58 151.85,177.31 155.00,178.00 C158.15,178.69 161.84,179.65 166.00,180.40 C170.16,181.15 177.75,182.38 182.70,183.00 C187.65,183.62 194.08,183.93 199.00,184.50 C203.92,185.07 210.85,185.98 215.50,186.80 C220.15,187.62 226.32,189.19 230.00,190.00 C233.68,190.81 236.10,191.21 240.00,192.20 C243.90,193.19 251.50,195.73 256.00,196.60 C260.50,197.47 265.35,197.58 270.00,198.00 C274.65,198.42 282.83,199.01 287.00,199.40 C291.17,199.79 295.00,200.01 297.80,200.60 C300.61,201.19 302.97,202.25 305.70,203.30 C308.43,204.35 313.25,206.72 316.00,207.60 C318.75,208.48 321.00,208.96 324.00,209.20 C327.00,209.44 332.25,209.20 336.00,209.20 C339.75,209.20 345.40,209.20 349.00,209.20 C352.60,209.20 355.73,208.78 360.00,209.20 C364.27,209.62 373.00,211.13 377.50,212.00 C382.00,212.87 386.25,214.18 390.00,215.00 C393.75,215.82 399.57,216.84 402.50,217.50 C405.43,218.16 406.27,218.81 409.50,219.40 C412.73,219.99 420.77,221.16 424.00,221.40 C427.23,221.64 428.45,220.97 431.00,221.00 C433.55,221.03 437.85,220.95 441.00,221.60 C444.15,222.25 448.75,224.21 452.00,225.30 C455.25,226.40 460.30,228.41 462.70,228.90 C465.10,229.40 465.56,228.67 468.00,228.60 C470.44,228.53 475.70,228.25 479.00,228.40 C482.30,228.55 486.58,228.92 490.00,229.60 C493.42,230.28 498.35,232.12 501.80,232.90 C505.25,233.68 509.73,234.28 513.00,234.80 C516.27,235.33 519.85,235.92 523.60,236.40 C527.35,236.88 535.84,237.76 538.00,238.00 L538.00,279.00 L514.50,297.50 L458.50,297.50 L434.00,279.00 L343.75,279.00 L325.00,308.80 L280.00,308.80 L240.00,270.00 L180.00,269.00 L144.50,245.75 L30.00,245.75  Z" fill="#ffe800"/>
<path d="M30.00,153.70 C31.50,153.75 37.15,153.84 40.00,154.00 C42.85,154.16 46.15,154.28 49.00,154.80 C51.85,155.33 55.85,156.38 59.00,157.50 C62.15,158.62 66.79,161.07 70.00,162.30 C73.21,163.53 77.27,164.62 80.40,165.70 C83.54,166.78 87.81,168.56 90.90,169.50 C93.99,170.44 98.14,171.41 101.00,172.00 C103.86,172.59 107.05,172.97 110.00,173.40 C112.95,173.84 117.70,174.28 120.70,174.90 C123.70,175.52 127.11,176.54 130.00,177.50 C132.90,178.46 136.25,180.21 140.00,181.30 C143.75,182.40 150.50,183.74 155.00,184.80 C159.50,185.87 165.84,187.32 170.00,188.40 C174.16,189.48 178.35,191.15 182.70,192.00 C187.05,192.85 194.08,193.57 199.00,194.10 C203.92,194.62 210.85,194.94 215.50,195.50 C220.15,196.06 226.32,197.28 230.00,197.80 C233.68,198.33 236.10,198.55 240.00,199.00 C243.90,199.45 251.50,200.32 256.00,200.80 C260.50,201.28 265.35,201.60 270.00,202.20 C274.65,202.80 282.95,204.20 287.00,204.80 C291.05,205.40 294.60,205.81 297.00,206.20 C299.40,206.59 300.15,206.78 303.00,207.40 C305.85,208.02 312.46,209.52 316.00,210.30 C319.54,211.08 323.60,212.25 326.60,212.60 C329.60,212.94 332.64,212.70 336.00,212.60 C339.36,212.50 345.40,212.09 349.00,211.90 C352.60,211.71 355.73,211.14 360.00,211.30 C364.27,211.47 373.00,212.37 377.50,213.00 C382.00,213.63 387.07,214.78 390.00,215.50 C392.93,216.22 395.12,217.43 397.00,217.80 C398.88,218.18 400.62,217.70 402.50,218.00 C404.38,218.30 406.27,219.20 409.50,219.80 C412.73,220.40 420.77,221.61 424.00,222.00 C427.23,222.39 428.45,222.06 431.00,222.40 C433.55,222.75 437.85,223.09 441.00,224.30 C444.15,225.52 448.75,228.96 452.00,230.50 C455.25,232.04 458.65,233.78 462.70,234.60 C466.75,235.42 474.90,235.55 479.00,236.00 C483.10,236.45 486.58,237.12 490.00,237.60 C493.42,238.08 496.76,238.40 501.80,239.20 C506.84,240.00 518.17,242.11 523.60,242.90 C529.03,243.69 535.84,244.26 538.00,244.50 L538.00,279.00 L514.50,297.50 L458.50,297.50 L434.00,279.00 L343.75,279.00 L325.00,308.80 L280.00,308.80 L240.00,270.00 L180.00,269.00 L144.50,245.75 L30.00,245.75  Z" fill="#fdb414"/>
<path d="M30.00,167.70 C31.26,167.86 35.55,168.16 38.40,168.80 C41.25,169.45 45.91,171.07 49.00,172.00 C52.09,172.93 55.85,174.13 59.00,175.00 C62.15,175.87 66.79,177.05 70.00,177.80 C73.21,178.55 77.27,179.40 80.40,180.00 C83.54,180.60 87.81,181.32 90.90,181.80 C93.99,182.28 97.69,182.81 101.00,183.20 C104.31,183.59 109.25,183.95 113.00,184.40 C116.75,184.85 121.95,185.60 126.00,186.20 C130.05,186.80 136.40,187.65 140.00,188.40 C143.60,189.15 147.30,190.27 150.00,191.20 C152.70,192.13 155.54,193.37 158.00,194.60 C160.46,195.83 163.93,198.06 166.40,199.40 C168.88,200.74 172.06,202.53 174.50,203.50 C176.94,204.47 179.02,205.09 182.70,205.90 C186.38,206.71 194.08,208.11 199.00,208.90 C203.92,209.69 210.85,210.61 215.50,211.20 C220.15,211.78 226.32,212.50 230.00,212.80 C233.68,213.10 237.06,213.23 240.00,213.20 C242.94,213.17 247.20,212.81 249.60,212.60 C252.00,212.39 254.05,212.00 256.00,211.80 C257.95,211.61 260.82,211.08 262.60,211.30 C264.38,211.53 264.99,212.84 267.90,213.30 C270.81,213.77 277.19,214.10 282.00,214.40 C286.81,214.70 295.35,215.18 300.00,215.30 C304.65,215.42 309.01,215.45 313.00,215.20 C316.99,214.94 323.15,213.99 326.60,213.60 C330.05,213.21 332.64,212.85 336.00,212.60 C339.36,212.34 345.40,212.09 349.00,211.90 C352.60,211.71 355.73,211.14 360.00,211.30 C364.27,211.47 373.00,212.37 377.50,213.00 C382.00,213.63 387.07,214.78 390.00,215.50 C392.93,216.22 395.12,217.43 397.00,217.80 C398.88,218.18 400.62,217.70 402.50,218.00 C404.38,218.30 406.27,219.17 409.50,219.80 C412.73,220.43 420.77,221.75 424.00,222.20 C427.23,222.65 428.45,222.26 431.00,222.80 C433.55,223.34 437.85,224.33 441.00,225.80 C444.15,227.27 448.75,231.01 452.00,232.60 C455.25,234.19 458.65,235.47 462.70,236.40 C466.75,237.33 474.90,238.32 479.00,238.80 C483.10,239.28 486.58,239.06 490.00,239.60 C493.42,240.14 496.76,241.58 501.80,242.40 C506.84,243.22 518.17,244.53 523.60,245.10 C529.03,245.67 535.84,246.03 538.00,246.20 L538.00,279.00 L514.50,297.50 L458.50,297.50 L434.00,279.00 L343.75,279.00 L325.00,308.80 L280.00,308.80 L240.00,270.00 L180.00,269.00 L144.50,245.75 L30.00,245.75  Z" fill="#1f9fe6"/>
<path d="M30.00,167.70 C31.26,167.86 35.55,168.16 38.40,168.80 C41.25,169.45 45.91,171.07 49.00,172.00 C52.09,172.93 55.85,174.13 59.00,175.00 C62.15,175.87 66.79,177.05 70.00,177.80 C73.21,178.55 77.27,179.40 80.40,180.00 C83.54,180.60 87.81,181.32 90.90,181.80 C93.99,182.28 97.69,182.81 101.00,183.20 C104.31,183.59 109.25,183.95 113.00,184.40 C116.75,184.85 121.95,185.60 126.00,186.20 C130.05,186.80 136.40,187.65 140.00,188.40 C143.60,189.15 147.30,190.27 150.00,191.20 C152.70,192.13 155.54,193.37 158.00,194.60 C160.46,195.83 163.93,198.06 166.40,199.40 C168.88,200.74 172.06,202.53 174.50,203.50 C176.94,204.47 179.02,205.09 182.70,205.90 C186.38,206.71 194.08,208.11 199.00,208.90 C203.92,209.69 210.85,210.61 215.50,211.20 C220.15,211.78 226.32,212.50 230.00,212.80 C233.68,213.10 237.06,213.23 240.00,213.20 C242.94,213.17 247.20,212.81 249.60,212.60 C252.00,212.39 254.05,212.00 256.00,211.80 C257.95,211.61 260.82,211.08 262.60,211.30 C264.38,211.53 264.99,212.84 267.90,213.30 C270.81,213.77 277.19,214.10 282.00,214.40 C286.81,214.70 295.35,215.18 300.00,215.30 C304.65,215.42 309.01,215.45 313.00,215.20 C316.99,214.94 323.15,213.99 326.60,213.60 C330.05,213.21 332.64,212.85 336.00,212.60 C339.36,212.34 345.40,212.09 349.00,211.90 C352.60,211.71 355.73,211.14 360.00,211.30 C364.27,211.47 373.00,212.37 377.50,213.00 C382.00,213.63 387.07,214.78 390.00,215.50 C392.93,216.22 395.12,217.43 397.00,217.80 C398.88,218.18 400.62,217.70 402.50,218.00 C404.38,218.30 406.27,219.17 409.50,219.80 C412.73,220.43 420.77,221.75 424.00,222.20 C427.23,222.65 428.45,222.26 431.00,222.80 C433.55,223.34 437.85,224.33 441.00,225.80 C444.15,227.27 448.75,231.01 452.00,232.60 C455.25,234.19 458.65,235.47 462.70,236.40 C466.75,237.33 474.90,238.32 479.00,238.80 C483.10,239.28 486.58,239.06 490.00,239.60 C493.42,240.14 496.76,241.58 501.80,242.40 C506.84,243.22 518.17,244.53 523.60,245.10 C529.03,245.67 535.84,246.03 538.00,246.20 L538.00,279.00 L514.50,297.50 L458.50,297.50 L434.00,279.00 L343.75,279.00 L325.00,308.80 L280.00,308.80 L240.00,270.00 L180.00,269.00 L144.50,245.75 L30.00,245.75  Z" fill="url(#tex)"/>
<path d="M30.00,201.80 C32.25,201.77 41.25,201.87 45.00,201.60 C48.75,201.33 52.00,200.42 55.00,200.00 C58.00,199.58 62.00,198.95 65.00,198.80 C68.00,198.65 72.45,198.75 75.00,199.00 C77.55,199.25 80.20,199.75 82.00,200.50 C83.80,201.25 85.65,202.72 87.00,204.00 C88.35,205.28 89.80,207.98 91.00,209.00 C92.20,210.02 93.65,210.47 95.00,210.80 C96.35,211.13 95.50,210.94 100.00,211.20 C104.50,211.45 118.25,211.93 125.00,212.50 C131.75,213.07 140.50,214.50 145.00,215.00 C149.50,215.50 152.00,215.50 155.00,215.80 C158.00,216.10 162.60,216.52 165.00,217.00 C167.40,217.48 169.50,218.10 171.00,219.00 C172.50,219.90 173.95,221.35 175.00,223.00 C176.05,224.65 177.03,227.87 178.00,230.00 C178.97,232.13 179.70,235.95 181.50,237.20 C183.30,238.44 186.47,238.06 190.00,238.30 C193.53,238.54 199.00,238.65 205.00,238.80 C211.00,238.95 223.25,239.57 230.00,239.30 C236.75,239.03 245.20,237.80 250.00,237.00 C254.80,236.20 259.30,234.22 262.00,234.00 C264.70,233.78 266.05,234.90 268.00,235.50 C269.95,236.10 271.44,237.40 275.00,238.00 C278.56,238.60 286.50,239.26 291.75,239.50 C297.00,239.74 303.51,239.53 310.00,239.60 C316.49,239.67 328.70,239.82 335.00,240.00 C341.30,240.18 348.55,240.43 352.00,240.80 C355.45,241.18 356.50,241.72 358.00,242.50 C359.50,243.28 360.80,244.50 362.00,246.00 C363.20,247.50 364.80,250.55 366.00,252.50 C367.20,254.45 368.65,257.00 370.00,259.00 C371.35,261.00 373.23,263.97 375.00,265.80 C376.77,267.63 378.91,269.97 381.80,271.20 C384.69,272.43 390.82,273.58 394.30,274.00 C397.78,274.42 401.89,274.23 405.00,274.00 C408.11,273.77 412.75,273.02 415.00,272.50 C417.25,271.98 418.65,271.40 420.00,270.50 C421.35,269.60 422.95,267.85 424.00,266.50 C425.05,265.15 426.10,263.07 427.00,261.50 C427.90,259.93 428.95,257.35 430.00,256.00 C431.05,254.65 432.50,253.32 434.00,252.50 C435.50,251.68 438.05,250.88 440.00,250.50 C441.95,250.12 444.75,249.88 447.00,250.00 C449.25,250.12 452.90,250.40 455.00,251.30 C457.10,252.20 459.50,254.40 461.00,256.00 C462.50,257.61 463.80,260.15 465.00,262.00 C466.20,263.85 467.80,266.75 469.00,268.30 C470.20,269.85 471.65,271.40 473.00,272.30 C474.35,273.20 475.45,273.94 478.00,274.30 C480.55,274.66 485.95,274.67 490.00,274.70 C494.05,274.73 501.40,274.61 505.00,274.50 C508.60,274.39 511.75,274.30 514.00,274.00 C516.25,273.70 518.35,273.10 520.00,272.50 C521.65,271.90 523.73,270.98 525.00,270.00 C526.27,269.02 527.52,267.05 528.50,266.00 C529.48,264.95 530.52,263.60 531.50,263.00 C532.48,262.40 534.02,262.15 535.00,262.00 C535.98,261.85 537.55,262.00 538.00,262.00 L538.00,279.00 L514.50,297.50 L458.50,297.50 L434.00,279.00 L343.75,279.00 L325.00,308.80 L280.00,308.80 L240.00,270.00 L180.00,269.00 L144.50,245.75 L30.00,245.75  Z" fill="#fe2b1c"/>
<path d="M30.00,173.70 C34.17,174.25 47.50,175.70 55.00,177.00 C62.50,178.30 67.50,179.83 75.00,181.50 C82.50,183.17 91.50,185.67 100.00,187.00 C108.50,188.33 119.50,188.60 126.00,189.50 C132.50,190.40 134.67,191.40 139.00,192.40 C143.33,193.40 147.43,193.93 152.00,195.50 C156.57,197.07 161.28,199.65 166.40,201.80 C171.52,203.95 177.27,206.77 182.70,208.40 C188.13,210.03 193.53,210.65 199.00,211.60 C204.47,212.55 208.67,213.42 215.50,214.10 C222.33,214.78 230.92,215.30 240.00,215.70 C249.08,216.10 261.67,216.18 270.00,216.50 C278.33,216.82 283.33,217.43 290.00,217.60 C296.67,217.77 303.33,217.85 310.00,217.50 C316.67,217.15 323.33,216.00 330.00,215.50 C336.67,215.00 343.33,214.58 350.00,214.50 C356.67,214.42 362.50,214.42 370.00,215.00 C377.50,215.58 388.42,216.87 395.00,218.00 C401.58,219.13 404.67,220.43 409.50,221.80 C414.33,223.17 420.58,225.17 424.00,226.20 C427.42,227.23 425.37,226.43 430.00,228.00 C434.63,229.57 444.53,233.42 451.80,235.60 C459.07,237.78 467.23,239.88 473.60,241.10 C479.97,242.32 483.93,242.17 490.00,242.90 C496.07,243.63 502.00,244.42 510.00,245.50 C518.00,246.58 533.33,248.75 538.00,249.40" fill="none" stroke="#9fdcf4" stroke-width="0.6" stroke-dasharray="1.3,1.1"/>
<line x1="30" y1="137" x2="30" y2="357.2" stroke="#999" stroke-width="0.8"/>
<line x1="538.8" y1="237.5" x2="538.8" y2="357.2" stroke="#999" stroke-width="0.9"/>
<line x1="30" y1="357.2" x2="538.8" y2="357.2" stroke="#888" stroke-width="0.8" stroke-dasharray="2.2,1.1"/>
<line x1="28.8" y1="137" x2="28.8" y2="311" stroke="#000" stroke-width="1.5"/>
<line x1="24.6" y1="141.6" x2="28" y2="141.6" stroke="#333" stroke-width="0.55"/>
<line x1="24.6" y1="145.4" x2="28" y2="145.4" stroke="#333" stroke-width="0.55"/>
<line x1="24.6" y1="149.2" x2="28" y2="149.2" stroke="#333" stroke-width="0.55"/>
<line x1="24.6" y1="152.9" x2="28" y2="152.9" stroke="#333" stroke-width="0.55"/>
<line x1="24.6" y1="156.7" x2="28" y2="156.7" stroke="#333" stroke-width="0.55"/>
<line x1="24.6" y1="160.5" x2="28" y2="160.5" stroke="#333" stroke-width="0.55"/>
<line x1="24.6" y1="164.3" x2="28" y2="164.3" stroke="#333" stroke-width="0.55"/>
<line x1="24.6" y1="168.1" x2="28" y2="168.1" stroke="#333" stroke-width="0.55"/>
<line x1="24.6" y1="171.8" x2="28" y2="171.8" stroke="#333" stroke-width="0.55"/>
<line x1="24.6" y1="175.6" x2="28" y2="175.6" stroke="#333" stroke-width="0.55"/>
<line x1="24.6" y1="179.4" x2="28" y2="179.4" stroke="#333" stroke-width="0.55"/>
<line x1="24.6" y1="183.2" x2="28" y2="183.2" stroke="#333" stroke-width="0.55"/>
<line x1="24.6" y1="187.0" x2="28" y2="187.0" stroke="#333" stroke-width="0.55"/>
<line x1="24.6" y1="190.7" x2="28" y2="190.7" stroke="#333" stroke-width="0.55"/>
<line x1="24.6" y1="194.5" x2="28" y2="194.5" stroke="#333" stroke-width="0.55"/>
<line x1="24.6" y1="198.3" x2="28" y2="198.3" stroke="#333" stroke-width="0.55"/>
<line x1="24.6" y1="202.1" x2="28" y2="202.1" stroke="#333" stroke-width="0.55"/>
<line x1="24.6" y1="205.9" x2="28" y2="205.9" stroke="#333" stroke-width="0.55"/>
<line x1="24.6" y1="209.6" x2="28" y2="209.6" stroke="#333" stroke-width="0.55"/>
<line x1="24.6" y1="213.4" x2="28" y2="213.4" stroke="#333" stroke-width="0.55"/>
<line x1="24.6" y1="217.2" x2="28" y2="217.2" stroke="#333" stroke-width="0.55"/>
<line x1="24.6" y1="221.0" x2="28" y2="221.0" stroke="#333" stroke-width="0.55"/>
<line x1="24.6" y1="224.8" x2="28" y2="224.8" stroke="#333" stroke-width="0.55"/>
<line x1="24.6" y1="228.5" x2="28" y2="228.5" stroke="#333" stroke-width="0.55"/>
<line x1="24.6" y1="232.3" x2="28" y2="232.3" stroke="#333" stroke-width="0.55"/>
<line x1="24.6" y1="236.1" x2="28" y2="236.1" stroke="#333" stroke-width="0.55"/>
<line x1="24.6" y1="239.9" x2="28" y2="239.9" stroke="#333" stroke-width="0.55"/>
<line x1="24.6" y1="243.7" x2="28" y2="243.7" stroke="#333" stroke-width="0.55"/>
<line x1="24.6" y1="247.4" x2="28" y2="247.4" stroke="#333" stroke-width="0.55"/>
<line x1="24.6" y1="251.2" x2="28" y2="251.2" stroke="#333" stroke-width="0.55"/>
<line x1="24.6" y1="255.0" x2="28" y2="255.0" stroke="#333" stroke-width="0.55"/>
<line x1="24.6" y1="258.8" x2="28" y2="258.8" stroke="#333" stroke-width="0.55"/>
<line x1="24.6" y1="262.6" x2="28" y2="262.6" stroke="#333" stroke-width="0.55"/>
<line x1="24.6" y1="266.3" x2="28" y2="266.3" stroke="#333" stroke-width="0.55"/>
<line x1="24.6" y1="270.1" x2="28" y2="270.1" stroke="#333" stroke-width="0.55"/>
<line x1="24.6" y1="273.9" x2="28" y2="273.9" stroke="#333" stroke-width="0.55"/>
<line x1="24.6" y1="277.7" x2="28" y2="277.7" stroke="#333" stroke-width="0.55"/>
<line x1="24.6" y1="281.5" x2="28" y2="281.5" stroke="#333" stroke-width="0.55"/>
<line x1="24.6" y1="285.2" x2="28" y2="285.2" stroke="#333" stroke-width="0.55"/>
<line x1="24.6" y1="289.0" x2="28" y2="289.0" stroke="#333" stroke-width="0.55"/>
<line x1="24.6" y1="292.8" x2="28" y2="292.8" stroke="#333" stroke-width="0.55"/>
<line x1="24.6" y1="296.6" x2="28" y2="296.6" stroke="#333" stroke-width="0.55"/>
<line x1="24.6" y1="300.4" x2="28" y2="300.4" stroke="#333" stroke-width="0.55"/>
<line x1="24.6" y1="304.1" x2="28" y2="304.1" stroke="#333" stroke-width="0.55"/>
<line x1="24.6" y1="307.9" x2="28" y2="307.9" stroke="#333" stroke-width="0.55"/>
<text x="21.9" y="144.5" font-size="5.8" font-weight="bold" text-anchor="end" fill="#222" textLength="9.4" lengthAdjust="spacingAndGlyphs">1065</text>
<text x="23.6" y="151.0" font-size="5.8" font-weight="bold" text-anchor="end" fill="#222">-1</text>
<text x="23.6" y="168.9" font-size="5.8" font-weight="bold" text-anchor="end" fill="#222">-5</text>
<text x="23.6" y="187.2" font-size="5.8" font-weight="bold" text-anchor="end" fill="#222">-10</text>
<text x="23.6" y="205.7" font-size="5.8" font-weight="bold" text-anchor="end" fill="#222">-15</text>
<text x="23.6" y="223.8" font-size="5.8" font-weight="bold" text-anchor="end" fill="#222">-20</text>
<text x="23.6" y="243.3" font-size="5.8" font-weight="bold" text-anchor="end" fill="#222">-25</text>
<text x="23.6" y="264.5" font-size="5.8" font-weight="bold" text-anchor="end" fill="#222">-30</text>
<text x="23.6" y="283.5" font-size="5.8" font-weight="bold" text-anchor="end" fill="#222">-35</text>
<text x="23.6" y="301.6" font-size="5.8" font-weight="bold" text-anchor="end" fill="#222">-40</text>
<text transform="translate(13.5,221.5) rotate(-90)" font-size="9.0" font-weight="bold" text-anchor="middle" fill="#111" textLength="85" lengthAdjust="spacingAndGlyphs">Elevation AMSL (m)</text>
<text x="51" y="366.6" font-size="6.4" font-weight="bold" text-anchor="middle" fill="#222">0</text>
<text x="77.3" y="366.6" font-size="6.4" font-weight="bold" text-anchor="middle" fill="#222">5</text>
<text x="122" y="366.6" font-size="6.4" font-weight="bold" text-anchor="middle" fill="#222">10</text>
<text x="159.5" y="366.6" font-size="6.4" font-weight="bold" text-anchor="middle" fill="#222">15</text>
<text x="198.3" y="366.6" font-size="6.4" font-weight="bold" text-anchor="middle" fill="#222">20</text>
<text x="240" y="366.6" font-size="6.4" font-weight="bold" text-anchor="middle" fill="#222">25</text>
<text x="279" y="366.6" font-size="6.4" font-weight="bold" text-anchor="middle" fill="#222">30</text>
<text x="319" y="366.6" font-size="6.4" font-weight="bold" text-anchor="middle" fill="#222">35</text>
<text x="361" y="366.6" font-size="6.4" font-weight="bold" text-anchor="middle" fill="#222">40</text>
<text x="400.5" y="366.6" font-size="6.4" font-weight="bold" text-anchor="middle" fill="#222">45</text>
<text x="440" y="366.6" font-size="6.4" font-weight="bold" text-anchor="middle" fill="#222">50</text>
<text x="480.2" y="366.6" font-size="6.4" font-weight="bold" text-anchor="middle" fill="#222">55</text>
<text x="519.2" y="366.6" font-size="6.4" font-weight="bold" text-anchor="middle" fill="#222">60</text>
<text x="291" y="376.3" font-size="9.7" font-weight="bold" text-anchor="middle" fill="#111" textLength="60.5" lengthAdjust="spacingAndGlyphs">Distance (Km)</text>
<line x1="50.40" y1="146.00" x2="50.40" y2="207.00" stroke="#4a4a3a" stroke-width="0.5"/>
<line x1="53.80" y1="146.00" x2="53.80" y2="207.00" stroke="#4a4a3a" stroke-width="0.5"/>
<rect x="50.40" y="175.50" width="3.4" height="31.50" fill="#94d0ee" stroke="#3f7798" stroke-width="0.45"/>
<line x1="51.80" y1="176.50" x2="51.80" y2="206.00" stroke="#c4e8f8" stroke-width="0.6"/>
<line x1="137.40" y1="173.00" x2="137.40" y2="232.50" stroke="#4a4a3a" stroke-width="0.5"/>
<line x1="140.80" y1="173.00" x2="140.80" y2="232.50" stroke="#4a4a3a" stroke-width="0.5"/>
<rect x="137.40" y="194.50" width="3.4" height="38.00" fill="#94d0ee" stroke="#3f7798" stroke-width="0.45"/>
<line x1="138.80" y1="195.50" x2="138.80" y2="231.50" stroke="#c4e8f8" stroke-width="0.6"/>
<line x1="209.90" y1="185.50" x2="209.90" y2="246.30" stroke="#4a4a3a" stroke-width="0.5"/>
<line x1="213.30" y1="185.50" x2="213.30" y2="246.30" stroke="#4a4a3a" stroke-width="0.5"/>
<rect x="209.90" y="211.50" width="3.4" height="34.80" fill="#94d0ee" stroke="#3f7798" stroke-width="0.45"/>
<line x1="211.30" y1="212.50" x2="211.30" y2="245.30" stroke="#c4e8f8" stroke-width="0.6"/>
<line x1="289.20" y1="198.50" x2="289.20" y2="286.00" stroke="#4a4a3a" stroke-width="0.5"/>
<line x1="292.60" y1="198.50" x2="292.60" y2="286.00" stroke="#4a4a3a" stroke-width="0.5"/>
<rect x="289.20" y="216.20" width="3.4" height="69.80" fill="#94d0ee" stroke="#3f7798" stroke-width="0.45"/>
<line x1="290.60" y1="217.20" x2="290.60" y2="285.00" stroke="#c4e8f8" stroke-width="0.6"/>
<line x1="290.9" y1="286.8" x2="290.9" y2="308" stroke="#fff" stroke-width="1.1" stroke-dasharray="1.6,1.1"/>
<line x1="360.20" y1="208.00" x2="360.20" y2="270.00" stroke="#4a4a3a" stroke-width="0.5"/>
<line x1="363.60" y1="208.00" x2="363.60" y2="270.00" stroke="#4a4a3a" stroke-width="0.5"/>
<rect x="360.20" y="211.50" width="3.4" height="58.50" fill="#94d0ee" stroke="#3f7798" stroke-width="0.45"/>
<line x1="361.60" y1="212.50" x2="361.60" y2="269.00" stroke="#c4e8f8" stroke-width="0.6"/>
<line x1="473.20" y1="228.50" x2="473.20" y2="288.80" stroke="#4a4a3a" stroke-width="0.5"/>
<line x1="476.60" y1="228.50" x2="476.60" y2="288.80" stroke="#4a4a3a" stroke-width="0.5"/>
<rect x="473.20" y="238.50" width="3.4" height="50.30" fill="#94d0ee" stroke="#3f7798" stroke-width="0.45"/>
<line x1="474.60" y1="239.50" x2="474.60" y2="287.80" stroke="#c4e8f8" stroke-width="0.6"/>
<line x1="505.70" y1="234.00" x2="505.70" y2="293.80" stroke="#4a4a3a" stroke-width="0.5"/>
<line x1="509.10" y1="234.00" x2="509.10" y2="293.80" stroke="#4a4a3a" stroke-width="0.5"/>
<rect x="505.70" y="244.50" width="3.4" height="49.30" fill="#94d0ee" stroke="#3f7798" stroke-width="0.45"/>
<line x1="507.10" y1="245.50" x2="507.10" y2="292.80" stroke="#c4e8f8" stroke-width="0.6"/>
<line x1="66" y1="157" x2="81.5" y2="181.5" stroke="#111" stroke-width="1.5" stroke-dasharray="0.9,3.6" stroke-linecap="round"/>
<line x1="87" y1="205" x2="98.8" y2="222.5" stroke="#111" stroke-width="1.5" stroke-dasharray="0.9,3.6" stroke-linecap="round"/>
<line x1="115" y1="175.5" x2="121.5" y2="189.5" stroke="#111" stroke-width="1.5" stroke-dasharray="0.9,3.6" stroke-linecap="round"/>
<line x1="164.5" y1="195.5" x2="184" y2="244.5" stroke="#111" stroke-width="1.5" stroke-dasharray="0.9,3.6" stroke-linecap="round"/>
<line x1="261.3" y1="208.8" x2="276.3" y2="247.5" stroke="#111" stroke-width="1.5" stroke-dasharray="0.9,3.6" stroke-linecap="round"/>
<line x1="357.5" y1="241.5" x2="382.5" y2="275" stroke="#111" stroke-width="1.5" stroke-dasharray="0.9,3.6" stroke-linecap="round"/>
<line x1="450" y1="226" x2="458.5" y2="238.5" stroke="#111" stroke-width="1.5" stroke-dasharray="0.9,3.6" stroke-linecap="round"/>
<line x1="423" y1="271" x2="432.5" y2="254" stroke="#111" stroke-width="1.5" stroke-dasharray="0.9,3.6" stroke-linecap="round"/>
<line x1="459" y1="253" x2="470.5" y2="270.5" stroke="#111" stroke-width="1.5" stroke-dasharray="0.9,3.6" stroke-linecap="round"/>
<line x1="522.5" y1="274" x2="533" y2="256" stroke="#111" stroke-width="1.5" stroke-dasharray="0.9,3.6" stroke-linecap="round"/>
<line x1="361" y1="246" x2="366" y2="253" stroke="#111" stroke-width="1.5" stroke-dasharray="0.9,3.6" stroke-linecap="round"/>
<g transform="translate(52.2,134.6) scale(1.0)"><path d="M-1.9,0 L-1.1,0 L-0.8,0.8 L0.8,0.8 L1.1,0 L1.9,0 L1.9,1.9 L-1.9,1.9 Z" fill="#2386d2"/><rect x="-1.6" y="1.8" width="3.2" height="4.6" fill="#4aa8e4"/><rect x="-0.85" y="2.5" width="1.7" height="2.3" fill="#c4e6f8"/><path d="M-1.9,6.3 L1.9,6.3 L2.9,11.6 L-2.9,11.6 Z" fill="#2386d2"/><rect x="-0.7" y="7.4" width="1.4" height="2.6" fill="#7cc4ee"/><path d="M-3.7,12.6 L-2.3,10.0 M3.7,12.6 L2.3,10.0" stroke="#1b2533" stroke-width="0.95"/></g>
<g transform="translate(139.2,161.2) scale(1.0)"><path d="M-1.9,0 L-1.1,0 L-0.8,0.8 L0.8,0.8 L1.1,0 L1.9,0 L1.9,1.9 L-1.9,1.9 Z" fill="#2386d2"/><rect x="-1.6" y="1.8" width="3.2" height="4.6" fill="#4aa8e4"/><rect x="-0.85" y="2.5" width="1.7" height="2.3" fill="#c4e6f8"/><path d="M-1.9,6.3 L1.9,6.3 L2.9,11.6 L-2.9,11.6 Z" fill="#2386d2"/><rect x="-0.7" y="7.4" width="1.4" height="2.6" fill="#7cc4ee"/><path d="M-3.7,12.6 L-2.3,10.0 M3.7,12.6 L2.3,10.0" stroke="#1b2533" stroke-width="0.95"/></g>
<g transform="translate(211.6,174.2) scale(1.0)"><path d="M-1.9,0 L-1.1,0 L-0.8,0.8 L0.8,0.8 L1.1,0 L1.9,0 L1.9,1.9 L-1.9,1.9 Z" fill="#2386d2"/><rect x="-1.6" y="1.8" width="3.2" height="4.6" fill="#4aa8e4"/><rect x="-0.85" y="2.5" width="1.7" height="2.3" fill="#c4e6f8"/><path d="M-1.9,6.3 L1.9,6.3 L2.9,11.6 L-2.9,11.6 Z" fill="#2386d2"/><rect x="-0.7" y="7.4" width="1.4" height="2.6" fill="#7cc4ee"/><path d="M-3.7,12.6 L-2.3,10.0 M3.7,12.6 L2.3,10.0" stroke="#1b2533" stroke-width="0.95"/></g>
<g transform="translate(361.9,196.2) scale(1.0)"><path d="M-1.9,0 L-1.1,0 L-0.8,0.8 L0.8,0.8 L1.1,0 L1.9,0 L1.9,1.9 L-1.9,1.9 Z" fill="#2386d2"/><rect x="-1.6" y="1.8" width="3.2" height="4.6" fill="#4aa8e4"/><rect x="-0.85" y="2.5" width="1.7" height="2.3" fill="#c4e6f8"/><path d="M-1.9,6.3 L1.9,6.3 L2.9,11.6 L-2.9,11.6 Z" fill="#2386d2"/><rect x="-0.7" y="7.4" width="1.4" height="2.6" fill="#7cc4ee"/><path d="M-3.7,12.6 L-2.3,10.0 M3.7,12.6 L2.3,10.0" stroke="#1b2533" stroke-width="0.95"/></g>
<g transform="translate(475.2,216.4) scale(1.0)"><path d="M-1.9,0 L-1.1,0 L-0.8,0.8 L0.8,0.8 L1.1,0 L1.9,0 L1.9,1.9 L-1.9,1.9 Z" fill="#2386d2"/><rect x="-1.6" y="1.8" width="3.2" height="4.6" fill="#4aa8e4"/><rect x="-0.85" y="2.5" width="1.7" height="2.3" fill="#c4e6f8"/><path d="M-1.9,6.3 L1.9,6.3 L2.9,11.6 L-2.9,11.6 Z" fill="#2386d2"/><rect x="-0.7" y="7.4" width="1.4" height="2.6" fill="#7cc4ee"/><path d="M-3.7,12.6 L-2.3,10.0 M3.7,12.6 L2.3,10.0" stroke="#1b2533" stroke-width="0.95"/></g>
<g transform="translate(507.5,221.8) scale(1.0)"><path d="M-1.9,0 L-1.1,0 L-0.8,0.8 L0.8,0.8 L1.1,0 L1.9,0 L1.9,1.9 L-1.9,1.9 Z" fill="#2386d2"/><rect x="-1.6" y="1.8" width="3.2" height="4.6" fill="#4aa8e4"/><rect x="-0.85" y="2.5" width="1.7" height="2.3" fill="#c4e6f8"/><path d="M-1.9,6.3 L1.9,6.3 L2.9,11.6 L-2.9,11.6 Z" fill="#2386d2"/><rect x="-0.7" y="7.4" width="1.4" height="2.6" fill="#7cc4ee"/><path d="M-3.7,12.6 L-2.3,10.0 M3.7,12.6 L2.3,10.0" stroke="#1b2533" stroke-width="0.95"/></g>
<rect x="288.2" y="187.6" width="5.4" height="1.3" fill="#7d8ea0"/>
<rect x="289.9" y="188.8" width="2.1" height="6.2" fill="#aab6c2" stroke="#6b7b8b" stroke-width="0.3"/>
<path d="M287,199.4 L288.7,195 L293.1,195 L294.8,199.4 Z" fill="#2a8fd6"/>
<text x="40.5" y="139.9" font-size="6.4" font-weight="bold" text-anchor="middle" fill="#0b9a56" textLength="11.2" lengthAdjust="spacingAndGlyphs" stroke="#0b9a56" stroke-width="0.2">V-13</text>
<path d="M37.00,141.30 L44.00,141.30 L40.50,146.40 Z" fill="#0b9a56"/>
<text x="67.6" y="144.8" font-size="6.4" font-weight="bold" text-anchor="middle" fill="#0b9a56" textLength="11.2" lengthAdjust="spacingAndGlyphs" stroke="#0b9a56" stroke-width="0.2">V-14</text>
<path d="M64.10,146.30 L71.10,146.30 L67.60,151.40 Z" fill="#0b9a56"/>
<text x="87" y="155.3" font-size="6.4" font-weight="bold" text-anchor="middle" fill="#0b9a56" textLength="11.2" lengthAdjust="spacingAndGlyphs" stroke="#0b9a56" stroke-width="0.2">V-15</text>
<path d="M83.50,156.30 L90.50,156.30 L87.00,161.40 Z" fill="#0b9a56"/>
<text x="117.5" y="163.0" font-size="6.4" font-weight="bold" text-anchor="middle" fill="#0b9a56" textLength="11.2" lengthAdjust="spacingAndGlyphs" stroke="#0b9a56" stroke-width="0.2">V-16</text>
<path d="M114.00,164.50 L121.00,164.50 L117.50,169.60 Z" fill="#0b9a56"/>
<text x="162.6" y="175.6" font-size="6.4" font-weight="bold" text-anchor="middle" fill="#0b9a56" textLength="11.2" lengthAdjust="spacingAndGlyphs" stroke="#0b9a56" stroke-width="0.2">V-17</text>
<path d="M159.10,176.90 L166.10,176.90 L162.60,182.00 Z" fill="#0b9a56"/>
<text x="228.8" y="184.1" font-size="6.4" font-weight="bold" text-anchor="middle" fill="#0b9a56" textLength="11.2" lengthAdjust="spacingAndGlyphs" stroke="#0b9a56" stroke-width="0.2">V-18</text>
<path d="M225.30,184.50 L232.30,184.50 L228.80,189.60 Z" fill="#0b9a56"/>
<text x="303.8" y="197.8" font-size="6.4" font-weight="bold" text-anchor="middle" fill="#0b9a56" textLength="11.2" lengthAdjust="spacingAndGlyphs" stroke="#0b9a56" stroke-width="0.2">V-19</text>
<path d="M300.30,199.70 L307.30,199.70 L303.80,204.80 Z" fill="#0b9a56"/>
<text x="318.8" y="202.3" font-size="6.4" font-weight="bold" text-anchor="middle" fill="#0b9a56" textLength="11.2" lengthAdjust="spacingAndGlyphs" stroke="#0b9a56" stroke-width="0.2">V-20</text>
<path d="M315.30,203.70 L322.30,203.70 L318.80,208.80 Z" fill="#0b9a56"/>
<text x="337.5" y="202.3" font-size="6.4" font-weight="bold" text-anchor="middle" fill="#0b9a56" textLength="11.2" lengthAdjust="spacingAndGlyphs" stroke="#0b9a56" stroke-width="0.2">V-21</text>
<path d="M334.00,203.70 L341.00,203.70 L337.50,208.80 Z" fill="#0b9a56"/>
<text x="371.3" y="207.3" font-size="6.4" font-weight="bold" text-anchor="middle" fill="#0b9a56" textLength="11.2" lengthAdjust="spacingAndGlyphs" stroke="#0b9a56" stroke-width="0.2">V-22</text>
<path d="M367.80,208.10 L374.80,208.10 L371.30,213.20 Z" fill="#0b9a56"/>
<text x="383" y="208.9" font-size="6.4" font-weight="bold" text-anchor="middle" fill="#0b9a56" textLength="11.2" lengthAdjust="spacingAndGlyphs" stroke="#0b9a56" stroke-width="0.2">V-23</text>
<path d="M379.50,210.10 L386.50,210.10 L383.00,215.20 Z" fill="#0b9a56"/>
<text x="447.3" y="217.5" font-size="6.4" font-weight="bold" text-anchor="middle" fill="#0b9a56" textLength="11.2" lengthAdjust="spacingAndGlyphs" stroke="#0b9a56" stroke-width="0.2">V-24</text>
<path d="M443.80,218.30 L450.80,218.30 L447.30,223.40 Z" fill="#0b9a56"/>
<text x="462.5" y="223.5" font-size="6.4" font-weight="bold" text-anchor="middle" fill="#0b9a56" textLength="11.2" lengthAdjust="spacingAndGlyphs" stroke="#0b9a56" stroke-width="0.2">V-25</text>
<path d="M459.00,224.50 L466.00,224.50 L462.50,229.60 Z" fill="#0b9a56"/>
<text x="490.3" y="226.6" font-size="6.4" font-weight="bold" text-anchor="middle" fill="#0b9a56" textLength="11.2" lengthAdjust="spacingAndGlyphs" stroke="#0b9a56" stroke-width="0.2">V-26</text>
<path d="M486.80,226.90 L493.80,226.90 L490.30,232.00 Z" fill="#0b9a56"/>
<text x="524" y="231.7" font-size="6.4" font-weight="bold" text-anchor="middle" fill="#0b9a56" textLength="11.2" lengthAdjust="spacingAndGlyphs" stroke="#0b9a56" stroke-width="0.2">V-27</text>
<path d="M520.50,233.70 L527.50,233.70 L524.00,238.80 Z" fill="#0b9a56"/>
<text x="187.3" y="177.3" font-size="6.6" font-weight="bold" text-anchor="middle" fill="#0b9a56" textLength="15.4" lengthAdjust="spacingAndGlyphs" stroke="#0b9a56" stroke-width="0.2">TEM-4</text>
<rect x="184.30" y="178.80" width="6" height="5.6" fill="#0b9a56"/>
<text x="261.2" y="191.8" font-size="6.6" font-weight="bold" text-anchor="middle" fill="#0b9a56" textLength="15.4" lengthAdjust="spacingAndGlyphs" stroke="#0b9a56" stroke-width="0.2">TEM-5</text>
<rect x="258.20" y="193.20" width="6" height="5.6" fill="#0b9a56"/>
<text x="427.4" y="215.3" font-size="6.6" font-weight="bold" text-anchor="middle" fill="#0b9a56" textLength="15.4" lengthAdjust="spacingAndGlyphs" stroke="#0b9a56" stroke-width="0.2">TEM-6</text>
<rect x="424.40" y="217.10" width="6" height="5.6" fill="#0b9a56"/>
<text x="51.8" y="131.3" font-size="6.4" font-weight="bold" text-anchor="middle" fill="#34247f" textLength="11.2" lengthAdjust="spacingAndGlyphs" stroke="#34247f" stroke-width="0.2">W12</text>
<text x="139.8" y="160.6" font-size="6.4" font-weight="bold" text-anchor="middle" fill="#34247f" textLength="11.2" lengthAdjust="spacingAndGlyphs" stroke="#34247f" stroke-width="0.2">W13</text>
<text x="211.4" y="172.4" font-size="6.4" font-weight="bold" text-anchor="middle" fill="#34247f" textLength="11.2" lengthAdjust="spacingAndGlyphs" stroke="#34247f" stroke-width="0.2">W14</text>
<text x="291" y="187.4" font-size="6.4" font-weight="bold" text-anchor="middle" fill="#e3241c" textLength="11.2" lengthAdjust="spacingAndGlyphs" stroke="#e3241c" stroke-width="0.2">W15</text>
<text x="361.4" y="195.4" font-size="6.4" font-weight="bold" text-anchor="middle" fill="#34247f" textLength="11.2" lengthAdjust="spacingAndGlyphs" stroke="#34247f" stroke-width="0.2">W16</text>
<text x="475.5" y="215.7" font-size="6.4" font-weight="bold" text-anchor="middle" fill="#34247f" textLength="11.2" lengthAdjust="spacingAndGlyphs" stroke="#34247f" stroke-width="0.2">W17</text>
<text x="506.8" y="219.6" font-size="6.4" font-weight="bold" text-anchor="middle" fill="#34247f" textLength="11.2" lengthAdjust="spacingAndGlyphs" stroke="#34247f" stroke-width="0.2">W18</text>
<text x="22.8" y="130.2" font-size="6.0" font-weight="bold" text-anchor="middle" fill="#e3241c" textLength="5.8" lengthAdjust="spacingAndGlyphs">P2</text>
<text x="24.3" y="136.2" font-size="6.8" font-weight="bold" text-anchor="middle" fill="#111" textLength="9.6" lengthAdjust="spacingAndGlyphs">SW</text>
<text x="537.4" y="224.5" font-size="6.0" font-weight="bold" text-anchor="middle" fill="#e3241c" textLength="9" lengthAdjust="spacingAndGlyphs">P2'</text>
<text x="537.2" y="229.7" font-size="6.4" font-weight="bold" text-anchor="middle" fill="#111" textLength="8.6" lengthAdjust="spacingAndGlyphs">NE</text>
<text x="406.8" y="200.6" font-size="6.8" font-weight="bold" text-anchor="middle" fill="#0b9a56" textLength="19.5" lengthAdjust="spacingAndGlyphs">Ranyah</text>
<text x="406.8" y="205" font-size="6.8" font-weight="bold" text-anchor="middle" fill="#0b9a56" textLength="11.2" lengthAdjust="spacingAndGlyphs">Dam</text>
<g transform="translate(401,207.5) scale(1.1)"><rect x="2.9" y="0" width="7.5" height="3" fill="#1d1d1d"/><rect x="4" y="0.9" width="1.2" height="0.9" fill="#fff"/><rect x="5.9" y="0.9" width="1.2" height="0.9" fill="#fff"/><rect x="7.8" y="0.9" width="1.2" height="0.9" fill="#fff"/><path d="M2.9,3 L10.4,3 L10.4,13.4 L0,13.4 C0.4,9 1.4,5 2.9,3 Z" fill="#1d1d1d"/><path d="M2.2,13.6 C2.6,9 3.6,6 5.3,3.6 M4.9,13.6 C5.2,9.3 6,6.3 7.6,3.6" stroke="#fff" stroke-width="0.75" fill="none"/></g>
<text transform="translate(294.3,298.2) rotate(90)" font-size="8.2" text-anchor="middle" fill="#222" textLength="69" lengthAdjust="spacingAndGlyphs">Down to 100m depth</text>
<line x1="35.2" y1="281.5" x2="44.5" y2="294.3" stroke="#111" stroke-width="1.35" stroke-dasharray="0.9,3.6" stroke-linecap="round"/>
<text x="47.6" y="292.4" font-size="7.7" fill="#1a1a1a" textLength="41" lengthAdjust="spacingAndGlyphs">Inferred fault</text>
<rect x="34.8" y="297.6" width="9.7" height="8.6" fill="#ffe800"/>
<text x="47.8" y="303.8" font-size="7.7" fill="#1a1a1a" textLength="72" lengthAdjust="spacingAndGlyphs">Unsorted wadi deposits</text>
<rect x="34.8" y="308.7" width="9.7" height="8.6" fill="#f6801f"/>
<text x="47.8" y="315.0" font-size="7.7" fill="#1a1a1a" textLength="58" lengthAdjust="spacingAndGlyphs">Gravel, Sands, Silt</text>
<rect x="34.8" y="321.6" width="9.7" height="8.6" fill="#1d9be3"/>
<text x="47.8" y="326.6" font-size="7.7" fill="#1a1a1a" textLength="109.6" lengthAdjust="spacingAndGlyphs">Weathered and Fractured Basement</text>
<rect x="34.8" y="335.5" width="9.7" height="8.6" fill="#fb2a1c"/>
<text x="47.8" y="342.8" font-size="7.7" fill="#1a1a1a" textLength="58" lengthAdjust="spacingAndGlyphs">Massive Basement</text>
<rect x="34.8" y="321.6" width="9.7" height="8.6" fill="url(#tex2)"/>
<text x="100.6" y="335.2" font-size="7.7" text-anchor="middle" fill="#222" textLength="64.5" lengthAdjust="spacingAndGlyphs">(Water bearing zone)</text>
<g transform="translate(167,277.5) scale(1.0)"><rect x="2.9" y="0" width="7.5" height="3" fill="#1d1d1d"/><rect x="4" y="0.9" width="1.2" height="0.9" fill="#fff"/><rect x="5.9" y="0.9" width="1.2" height="0.9" fill="#fff"/><rect x="7.8" y="0.9" width="1.2" height="0.9" fill="#fff"/><path d="M2.9,3 L10.4,3 L10.4,13.4 L0,13.4 C0.4,9 1.4,5 2.9,3 Z" fill="#1d1d1d"/><path d="M2.2,13.6 C2.6,9 3.6,6 5.3,3.6 M4.9,13.6 C5.2,9.3 6,6.3 7.6,3.6" stroke="#fff" stroke-width="0.75" fill="none"/></g>
<text x="180.6" y="286.3" font-size="7.7" fill="#222" textLength="39" lengthAdjust="spacingAndGlyphs">Ranyah dam</text>
<path d="M170.4,294.6 L178,294.6 L178,297.4 L177,297.4 L177,296.2 L170.4,296.2 Z" fill="#8393a4"/>
<rect x="172.9" y="296.2" width="2.6" height="6.7" fill="#a9b5c1" stroke="#6d7d8d" stroke-width="0.35"/>
<path d="M169.4,308.2 L171.4,302.8 L177.6,302.8 L180.4,308.2 Z" fill="#1f7fce"/>
<path d="M170.2,306.2 L179.4,306.2" stroke="#7cc0ee" stroke-width="0.6"/>
<text x="180.6" y="303.4" font-size="7.7" fill="#222" textLength="74.5" lengthAdjust="spacingAndGlyphs">Tube well (100m depth)</text>
<g transform="translate(173,311.2) scale(1.0)"><path d="M-1.9,0 L-1.1,0 L-0.8,0.8 L0.8,0.8 L1.1,0 L1.9,0 L1.9,1.9 L-1.9,1.9 Z" fill="#2386d2"/><rect x="-1.6" y="1.8" width="3.2" height="4.6" fill="#4aa8e4"/><rect x="-0.85" y="2.5" width="1.7" height="2.3" fill="#c4e6f8"/><path d="M-1.9,6.3 L1.9,6.3 L2.9,11.6 L-2.9,11.6 Z" fill="#2386d2"/><rect x="-0.7" y="7.4" width="1.4" height="2.6" fill="#7cc4ee"/><path d="M-3.7,12.6 L-2.3,10.0 M3.7,12.6 L2.3,10.0" stroke="#1b2533" stroke-width="0.95"/></g>
<text x="180.6" y="319.5" font-size="7.7" fill="#222" textLength="78.5" lengthAdjust="spacingAndGlyphs">Observed Hand-dug well</text>
<path d="M170.8,328.4 L177.2,328.4 L174,333.4 Z" fill="#0b9a56"/>
<text x="180.6" y="333.3" font-size="7.7" fill="#222" textLength="46" lengthAdjust="spacingAndGlyphs">VES sounding</text>
<rect x="171.9" y="337.7" width="4.9" height="4.8" fill="#0b9a56"/>
<text x="180.6" y="342.6" font-size="7.7" fill="#222" textLength="46.7" lengthAdjust="spacingAndGlyphs">TEM sounding</text>
<rect x="170.4" y="346.3" width="8.4" height="7.6" fill="#2590e0"/>
<path d="M171,349.5 q1,-1.4 2,0 t2,0 t2,0 M171,351.8 q1,-1.4 2,0 t2,0 t2,0" stroke="#cdeeff" stroke-width="0.55" fill="none"/>
<text x="180.6" y="352.7" font-size="7.7" fill="#222" textLength="91.5" lengthAdjust="spacingAndGlyphs">Water table in observed wells</text>
<rect x="4.3" y="4.4" width="541.1" height="375.1" fill="none" stroke="#111" stroke-width="1.5"/>
</svg></body></html>
